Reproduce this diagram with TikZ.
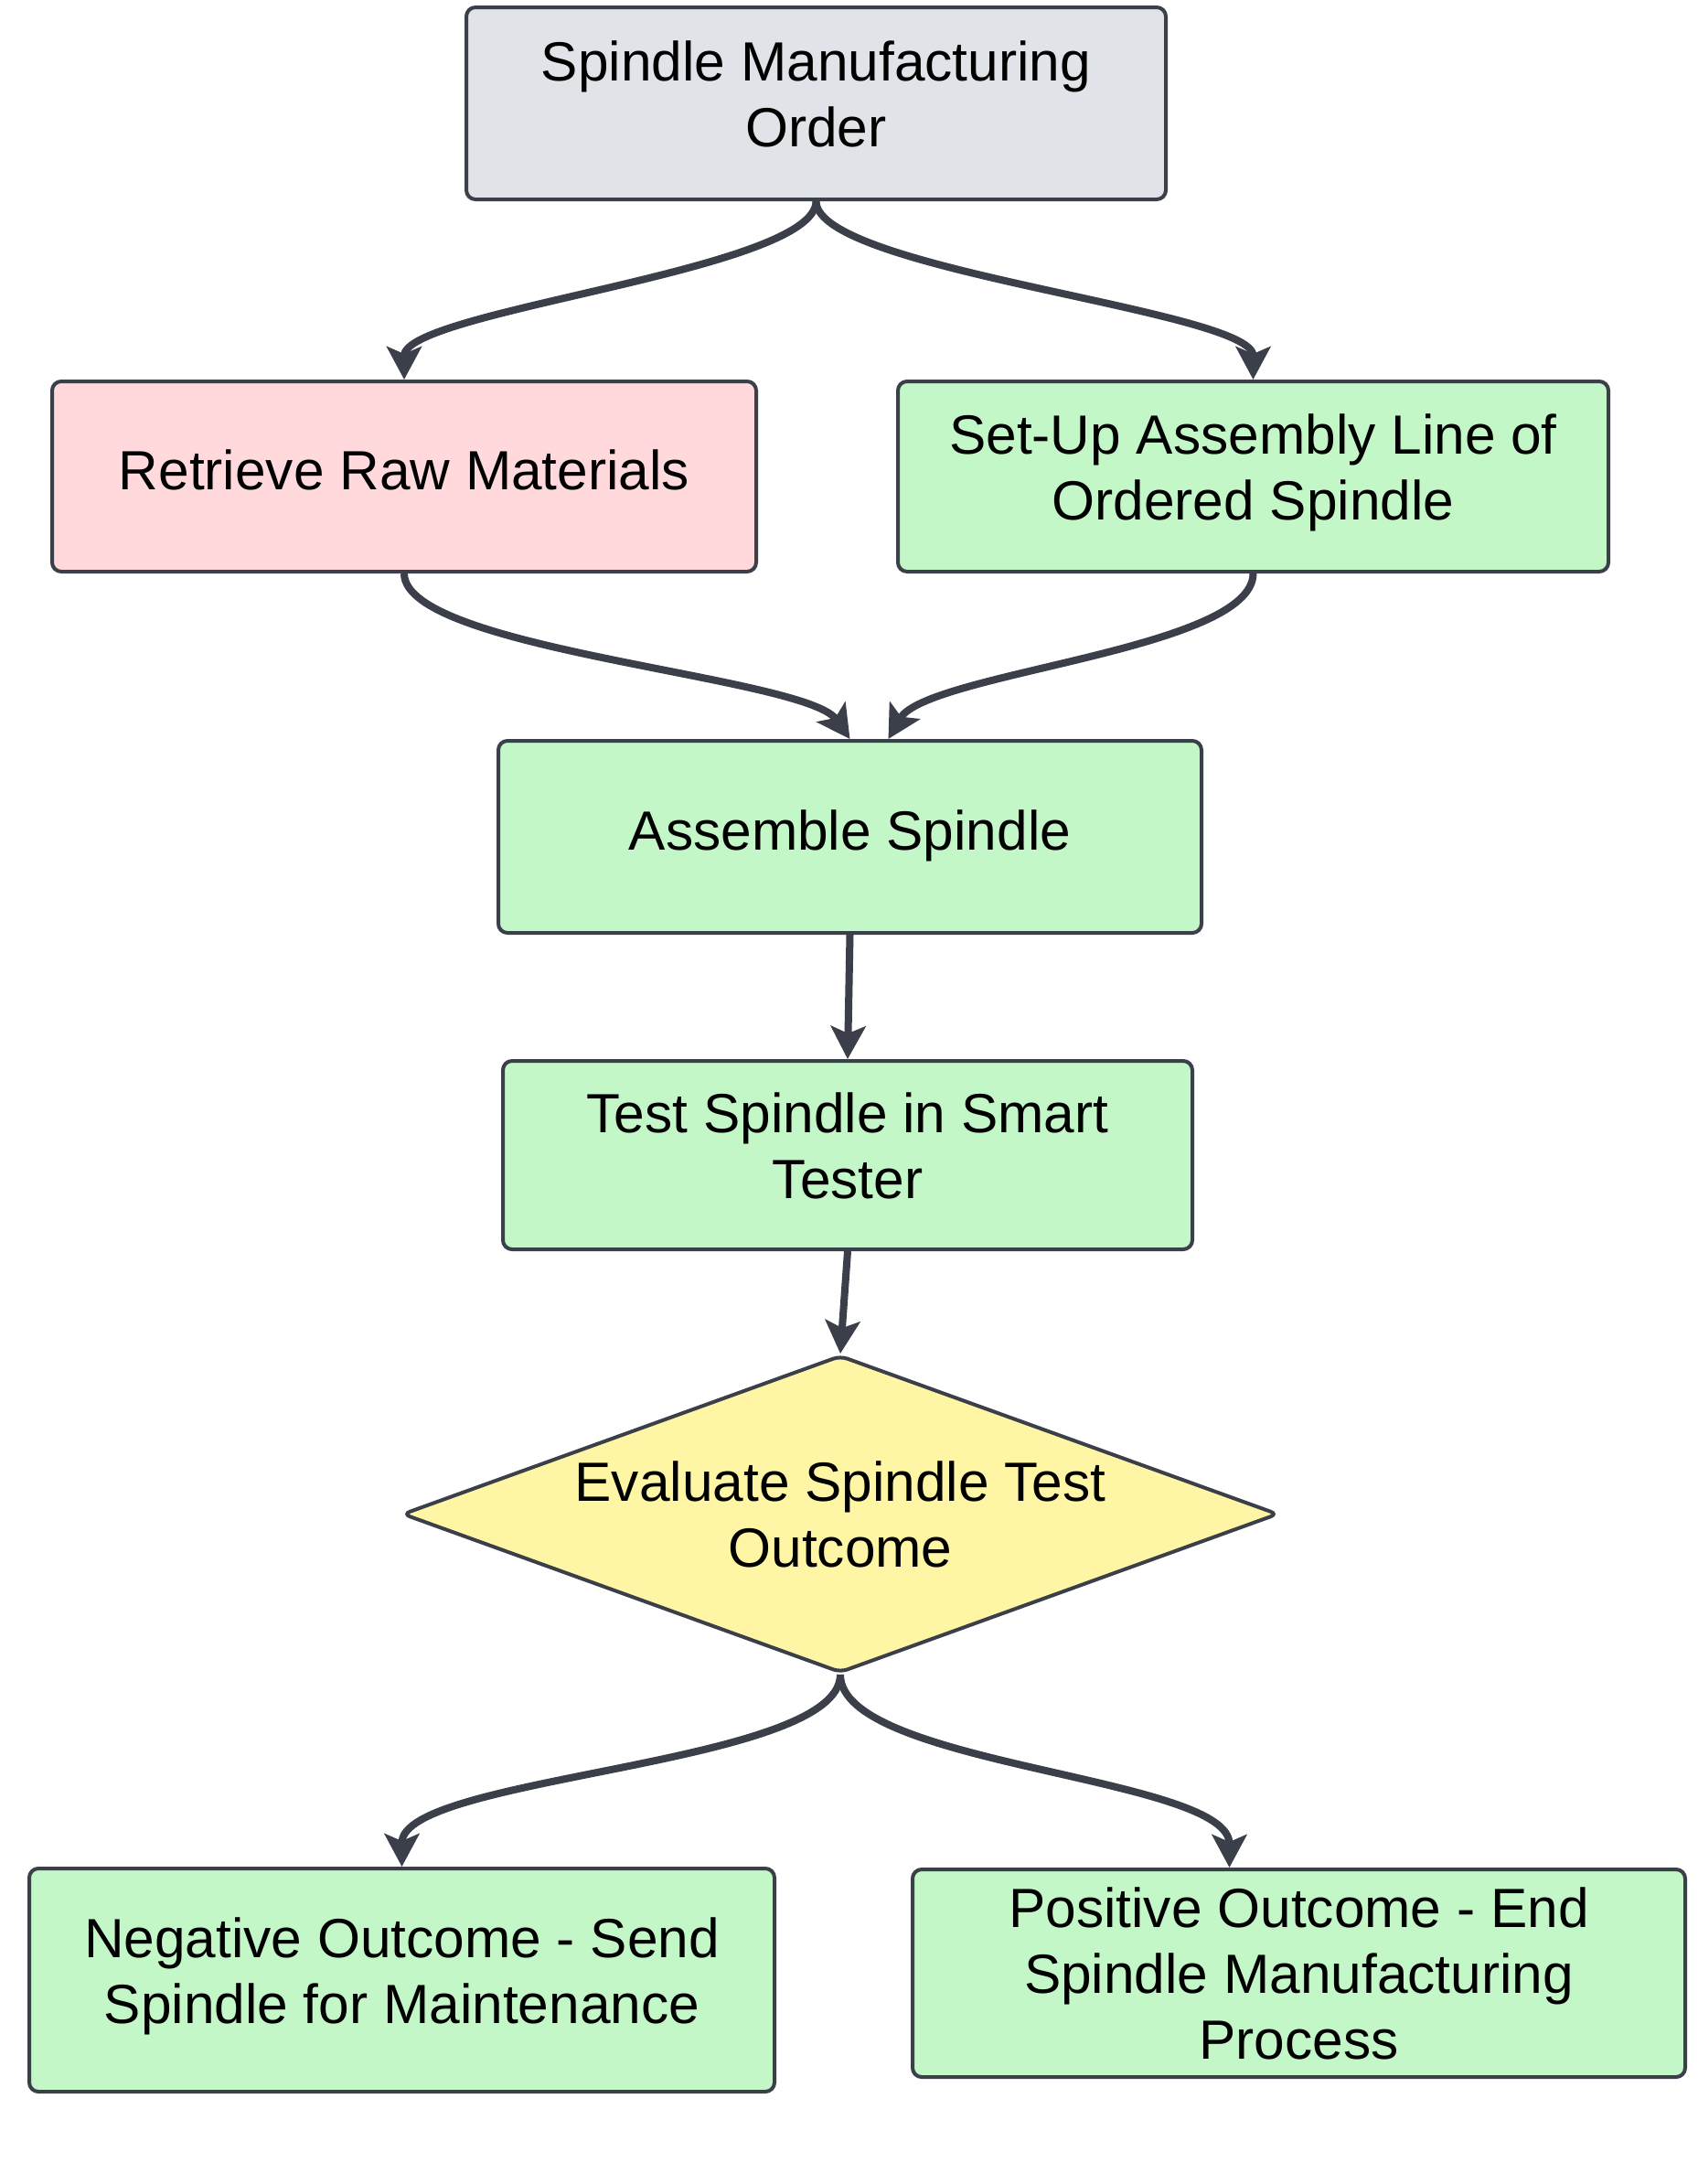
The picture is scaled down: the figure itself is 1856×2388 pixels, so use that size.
\documentclass[tikz,border=0pt]{standalone}
\usepackage{fontspec}
\setmainfont{Liberation Sans}
\usetikzlibrary{arrows.meta,calc,positioning,shapes.geometric}
\definecolor{edgegray}{RGB}{58,63,74}
\tikzset{
procbox/.style={
  rectangle,
  rounded corners=2.5pt,
  line width=1pt,
  inner sep=0pt,
  align=center,
  draw=edgegray,
  }
}
\tikzset{
strutbox/.style={
  procbox,
  execute at begin node=\strut,
  execute at end node=\strut,
  }
}
\tikzset{
decbox/.style={
  diamond,
  aspect=2.76,
  rounded corners=2pt,
  line width=1pt,
  inner sep=0pt,
  align=center,
  draw=edgegray,
  }
}
\tikzset{
flowline/.style={
  line width=2pt,
  draw=edgegray,
  -{Stealth[length=9pt,width=9.5pt,inset=2pt]}
  }
}

\begin{document}
\begin{tikzpicture}[x=0.25pt,y=0.25pt,font=\fontsize{15.1}{18}\selectfont]
    \useasboundingbox (0,0) rectangle (1856,-2388);

    % order and preparation
    \node[strutbox, fill={rgb,255:red,224;green,227;blue,232}, minimum width=191.25pt, minimum height=52.5pt] (order) at (892.5,-113) {Spindle Manufacturing\\Order};
    \node[strutbox, fill={rgb,255:red,255;green,217;blue,220}, minimum width=192.5pt, minimum height=52pt] (raw) at (442,-521) {Retrieve Raw Materials};
    \node[strutbox, fill={rgb,255:red,195;green,247;blue,200}, minimum width=194.25pt, minimum height=52pt] (setup) at (1370.5,-521) {Set-Up Assembly Line of\\Ordered Spindle};

    % assembly and test
    \node[strutbox, fill={rgb,255:red,195;green,247;blue,200}, minimum width=192.25pt, minimum height=52.5pt] (assemble) at (929.5,-915) {Assemble Spindle};
    \node[strutbox, fill={rgb,255:red,195;green,247;blue,200}, minimum width=188.5pt, minimum height=51.5pt] (test) at (927,-1263) {Test Spindle in Smart\\Tester};
    \node[decbox, fill={rgb,255:red,255;green,246;blue,165}, minimum width=239.5pt, minimum height=86.75pt] (decision) at (919,-1655.5) {Evaluate Spindle Test\\Outcome};

    % outcomes
    \node[strutbox, fill={rgb,255:red,195;green,247;blue,200}, minimum width=203.75pt, minimum height=61pt] (neg) at (439.5,-2165) {Negative Outcome - Send\\Spindle for Maintenance};
    \node[procbox, fill={rgb,255:red,195;green,247;blue,200}, minimum width=211.25pt, minimum height=56.75pt] (pos) at (1420.5,-2157.5) {Positive Outcome - End\\Spindle Manufacturing\\Process};

    % edges
    \draw[flowline] (order.south) to[out=-90,in=90,distance=19pt] (raw.north);
    \draw[flowline] (order.south) to[out=-90,in=90,distance=19pt] (setup.north);
    \draw[flowline] (raw.south) to[out=-90,in=125,distance=21pt] (assemble.north);
    \draw[flowline] (setup.south) to[out=-90,in=60,distance=21pt] ([xshift=10.5pt]assemble.north);
    \draw[flowline] (assemble.south) -- (test.north);
    \draw[flowline] (test.south) -- (decision.north);
    \draw[flowline] (decision.south) to[out=-90,in=90,distance=25pt] (neg.north);
    \draw[flowline] (decision.south) to[out=-90,in=90,distance=25pt] ([xshift=-19pt]pos.north);
\end{tikzpicture}
\end{document}
